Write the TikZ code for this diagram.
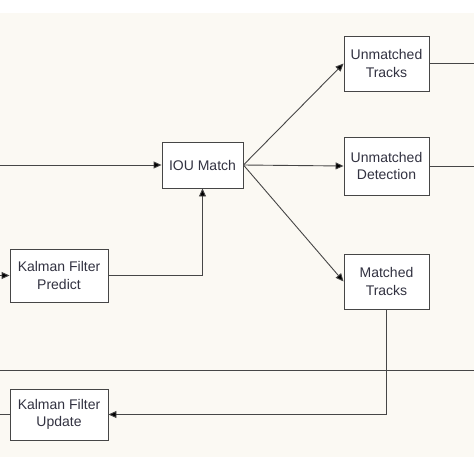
\documentclass[tikz,border=0pt]{standalone}
\usepackage{fontspec}
\setmainfont{Liberation Sans}
\usetikzlibrary{arrows.meta}
\definecolor{paper}{RGB}{251,249,243}
\definecolor{wire}{RGB}{70,70,70}
\definecolor{ink}{RGB}{50,50,65}
\tikzset{
  block/.style={draw=wire, fill=white, line width=0.9pt, align=center, text=ink,
    font=\fontsize{14}{17.5}\selectfont, inner sep=0pt},
  wireline/.style={draw=wire, line width=0.9pt},
  arrowline/.style={wireline, -{Triangle[length=8pt,width=7pt,fill=black]}}
}
\begin{document}
\begin{tikzpicture}[x=1pt,y=-1pt]
\useasboundingbox (0,0) rectangle (474,474);
\fill[paper] (0,13) rectangle (474,457);
% boxes
\node[block, minimum width=85pt, minimum height=55pt] (untracks) at (386.5,63.5) {Unmatched\\Tracks};
\node[block, minimum width=85pt, minimum height=58pt] (undetect) at (386.5,166) {Unmatched\\Detection};
\node[block, minimum width=81pt, minimum height=46pt] (iou) at (202.5,165) {IOU Match};
\node[block, minimum width=98pt, minimum height=53pt] (kfpredict) at (59,275.5) {Kalman Filter\\Predict};
\node[block, minimum width=85pt, minimum height=55pt] (mtracks) at (386.5,281.5) {Matched\\Tracks};
\node[block, minimum width=98pt, minimum height=51pt] (kfupdate) at (59,414.5) {Kalman Filter\\Update};
% free ends
\coordinate (detin) at (0,165);
\coordinate (predin) at (0,275.5);
\coordinate (updin) at (0,414.5);
\coordinate (utout) at (474,63.5);
\coordinate (udout) at (474,166);
\coordinate (sepl) at (0,370);
\coordinate (sepr) at (474,370);
% connectors
\draw[arrowline] (detin) -- (iou.west);
\draw[arrowline] (iou.east) -- (untracks.west);
\draw[arrowline] (iou.east) -- (undetect.west);
\draw[arrowline] (iou.east) -- (mtracks.west);
\draw[arrowline] (kfpredict.east) -| (iou.south);
\draw[arrowline] (predin) -- (kfpredict.west);
\draw[wireline] (untracks.east) -- (utout);
\draw[wireline] (undetect.east) -- (udout);
\draw[wireline] (sepl) -- (sepr);
\draw[arrowline] (mtracks.south) |- (kfupdate.east);
\draw[wireline] (updin) -- (kfupdate.west);
\end{tikzpicture}
\end{document}
